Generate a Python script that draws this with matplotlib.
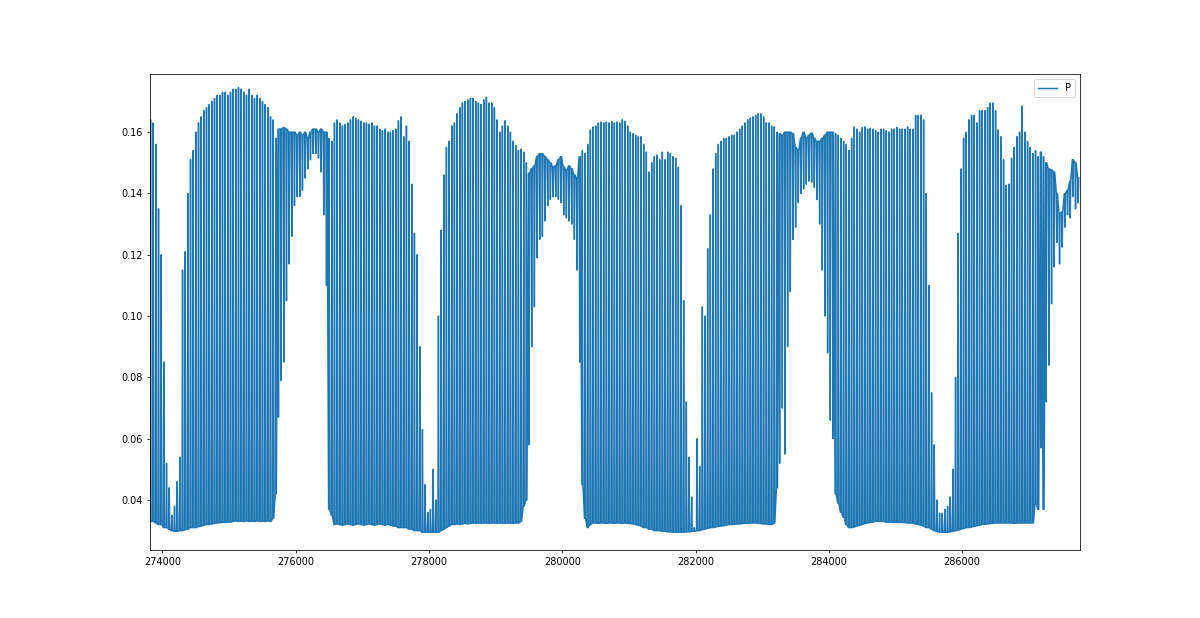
import numpy as np
import matplotlib
matplotlib.use("Agg")
import matplotlib.pyplot as plt

# index of the series (regular sampling)
x_start = 273814
x_step = 40

# upper (peak) value of each spike of P
p_high = [
    0.164, 0.163, 0.156, 0.135, 0.120, 0.085, 0.052, 0.044, 0.035, 0.038,
    0.046, 0.054, 0.115, 0.121, 0.140, 0.151, 0.154, 0.160, 0.163, 0.165,
    0.167, 0.168, 0.169, 0.170, 0.171, 0.172, 0.172, 0.173, 0.173, 0.172,
    0.173, 0.174, 0.174, 0.1745, 0.174, 0.173, 0.172, 0.174, 0.172, 0.171,
    0.172, 0.171, 0.170, 0.169, 0.168, 0.165, 0.164, 0.158, 0.161, 0.161,
    0.1615, 0.161, 0.160, 0.160, 0.160, 0.159, 0.160, 0.159, 0.160, 0.158,
    0.160, 0.161, 0.161, 0.160, 0.161, 0.160, 0.160, 0.158, 0.157, 0.163,
    0.164, 0.163, 0.162, 0.1625, 0.163, 0.164, 0.165, 0.1645, 0.164, 0.1635,
    0.163, 0.163, 0.1625, 0.163, 0.162, 0.162, 0.161, 0.1605, 0.161, 0.160,
    0.160, 0.1605, 0.161, 0.1637, 0.165, 0.1585, 0.162, 0.157, 0.143, 0.127,
    0.120, 0.090, 0.063, 0.045, 0.036, 0.037, 0.050, 0.040, 0.100, 0.128,
    0.146, 0.155, 0.157, 0.162, 0.163, 0.166, 0.168, 0.1695, 0.170, 0.1705,
    0.171, 0.171, 0.170, 0.1695, 0.169, 0.1705, 0.1714, 0.1695, 0.1695, 0.168,
    0.164, 0.160, 0.162, 0.1637, 0.162, 0.160, 0.157, 0.1557, 0.154, 0.1545,
    0.1535, 0.150, 0.1466, 0.148, 0.149, 0.152, 0.153, 0.153, 0.152, 0.151,
    0.150, 0.1486, 0.149, 0.151, 0.152, 0.1486, 0.1476, 0.149, 0.148, 0.146,
    0.145, 0.152, 0.154, 0.153, 0.156, 0.1607, 0.1617, 0.162, 0.163, 0.1633,
    0.163, 0.1633, 0.163, 0.1635, 0.163, 0.1633, 0.163, 0.164, 0.1635, 0.162,
    0.160, 0.1595, 0.159, 0.1585, 0.1585, 0.156, 0.1535, 0.147, 0.150, 0.152,
    0.1525, 0.151, 0.1535, 0.151, 0.1535, 0.153, 0.152, 0.1515, 0.1485, 0.136,
    0.105, 0.072, 0.054, 0.041, 0.031, 0.060, 0.051, 0.103, 0.100, 0.122,
    0.133, 0.148, 0.153, 0.156, 0.157, 0.158, 0.158, 0.1585, 0.159, 0.159,
    0.160, 0.161, 0.162, 0.163, 0.164, 0.1646, 0.165, 0.1655, 0.166, 0.166,
    0.165, 0.163, 0.163, 0.162, 0.1617, 0.160, 0.1595, 0.159, 0.160, 0.160,
    0.160, 0.1595, 0.155, 0.154, 0.158, 0.160, 0.158, 0.159, 0.1597, 0.158,
    0.157, 0.157, 0.158, 0.159, 0.160, 0.160, 0.160, 0.1595, 0.159, 0.158,
    0.157, 0.156, 0.154, 0.158, 0.1617, 0.161, 0.160, 0.1615, 0.1617, 0.161,
    0.1612, 0.161, 0.1605, 0.160, 0.161, 0.161, 0.1605, 0.160, 0.161, 0.161,
    0.1615, 0.161, 0.161, 0.161, 0.1617, 0.161, 0.161, 0.1655, 0.1655, 0.1655,
    0.164, 0.140, 0.110, 0.075, 0.058, 0.040, 0.0357, 0.0357, 0.037, 0.038,
    0.041, 0.050, 0.080, 0.127, 0.148, 0.158, 0.160, 0.164, 0.1655, 0.1655,
    0.163, 0.167, 0.167, 0.167, 0.168, 0.1695, 0.1695, 0.167, 0.1607, 0.1585,
    0.151, 0.1427, 0.143, 0.1515, 0.155, 0.1585, 0.160, 0.1685, 0.160, 0.157,
    0.155, 0.153, 0.154, 0.152, 0.1535, 0.152, 0.150, 0.148, 0.1476, 0.147,
    0.140, 0.1335, 0.134, 0.140, 0.141, 0.144, 0.151, 0.150, 0.145,
]

# lower (base) value of each spike of P
p_low = [
    0.033, 0.033, 0.0325, 0.032, 0.032, 0.031, 0.031, 0.0305, 0.030, 0.0298,
    0.0298, 0.030, 0.030, 0.0303, 0.0305, 0.031, 0.031, 0.031, 0.0313, 0.0315,
    0.0318, 0.032, 0.032, 0.0322, 0.0324, 0.0325, 0.0326, 0.0327, 0.0327, 0.0328,
    0.0328, 0.033, 0.0332, 0.033, 0.0331, 0.033, 0.0332, 0.033, 0.0331, 0.033,
    0.0332, 0.033, 0.0331, 0.033, 0.0332, 0.033, 0.034, 0.042, 0.067, 0.079,
    0.085, 0.105, 0.117, 0.126, 0.136, 0.139, 0.139, 0.141, 0.145, 0.148,
    0.151, 0.153, 0.153, 0.1515, 0.147, 0.133, 0.110, 0.037, 0.035, 0.032,
    0.0322, 0.032, 0.0318, 0.032, 0.0322, 0.032, 0.0318, 0.032, 0.0322, 0.032,
    0.0318, 0.032, 0.0322, 0.032, 0.0318, 0.032, 0.0322, 0.032, 0.0318, 0.032,
    0.0318, 0.0315, 0.0315, 0.031, 0.031, 0.031, 0.031, 0.0305, 0.0305, 0.030,
    0.030, 0.030, 0.0295, 0.0295, 0.0295, 0.0295, 0.0295, 0.0295, 0.0295, 0.030,
    0.0305, 0.031, 0.0315, 0.032, 0.032, 0.0322, 0.032, 0.0322, 0.0324, 0.0322,
    0.0324, 0.0325, 0.0324, 0.0325, 0.0324, 0.0325, 0.0325, 0.0324, 0.0325, 0.0325,
    0.0324, 0.0325, 0.0325, 0.0324, 0.0325, 0.0325, 0.0324, 0.0325, 0.0325, 0.033,
    0.038, 0.040, 0.058, 0.090, 0.103, 0.119, 0.125, 0.126, 0.131, 0.136,
    0.138, 0.139, 0.139, 0.138, 0.137, 0.133, 0.132, 0.131, 0.130, 0.125,
    0.115, 0.085, 0.045, 0.034, 0.031, 0.032, 0.0325, 0.0325, 0.0324, 0.0325,
    0.0325, 0.0324, 0.0325, 0.0325, 0.0324, 0.0325, 0.0325, 0.0324, 0.0325, 0.0324,
    0.0323, 0.0322, 0.032, 0.0318, 0.0315, 0.031, 0.031, 0.0305, 0.0305, 0.030,
    0.030, 0.030, 0.0298, 0.0298, 0.0296, 0.0296, 0.0295, 0.0295, 0.0295, 0.0295,
    0.0295, 0.0296, 0.0296, 0.0298, 0.0298, 0.030, 0.030, 0.0303, 0.0305, 0.0308,
    0.031, 0.031, 0.0312, 0.0314, 0.0315, 0.0316, 0.0318, 0.032, 0.032, 0.0321,
    0.0322, 0.0322, 0.0323, 0.0324, 0.0324, 0.0325, 0.0325, 0.0325, 0.0324, 0.0323,
    0.0322, 0.0322, 0.032, 0.032, 0.0325, 0.044, 0.052, 0.070, 0.055, 0.090,
    0.108, 0.125, 0.129, 0.137, 0.140, 0.1415, 0.143, 0.144, 0.1437, 0.142,
    0.138, 0.130, 0.115, 0.100, 0.088, 0.066, 0.060, 0.042, 0.039, 0.036,
    0.0344, 0.032, 0.031, 0.031, 0.0312, 0.0315, 0.0318, 0.032, 0.0323, 0.0325,
    0.0327, 0.0328, 0.033, 0.033, 0.033, 0.033, 0.0328, 0.0328, 0.0328, 0.0327,
    0.0327, 0.0327, 0.0327, 0.0326, 0.0325, 0.0325, 0.0324, 0.0322, 0.032, 0.0318,
    0.0315, 0.031, 0.031, 0.0305, 0.030, 0.0297, 0.0295, 0.0295, 0.0295, 0.0295,
    0.0296, 0.0298, 0.030, 0.0302, 0.0305, 0.0307, 0.031, 0.031, 0.0312, 0.0314,
    0.0316, 0.0318, 0.032, 0.0321, 0.0322, 0.0323, 0.0324, 0.0325, 0.0325, 0.0325,
    0.0325, 0.0325, 0.0325, 0.0325, 0.0324, 0.0325, 0.0325, 0.0325, 0.0325, 0.0325,
    0.0325, 0.0325, 0.039, 0.037, 0.057, 0.037, 0.072, 0.084, 0.104, 0.116,
    0.124, 0.117, 0.1225, 0.129, 0.133, 0.132, 0.139, 0.135, 0.137,
]

n = min(len(p_high), len(p_low))
hi = np.asarray(p_high[:n])
lo = np.asarray(p_low[:n])
xs = x_start + x_step * np.arange(n)
d = 8.0
# where the base level is raised, the line rests on the top level and dips down
rest_top = lo > 0.045
first = np.where(rest_top, hi, lo)
mid = np.where(rest_top, lo, hi)
x = np.column_stack([xs, xs + d, xs + 2 * d]).ravel()
y = np.column_stack([first, mid, first]).ravel()

# figure rendered at a lower dpi (everything ~0.7 scale), 1200x618 px
fig, ax = plt.subplots(figsize=(12 / 0.7, 6.18 / 0.7), dpi=70)
ax.plot(x, y, color="#1f77b4", lw=1.5, label="P")
ax.set_xlim(273814, 287769)
ax.set_ylim(0.0237, 0.1789)
ax.legend(loc="upper right")
fig.savefig("out.png", dpi=70)
